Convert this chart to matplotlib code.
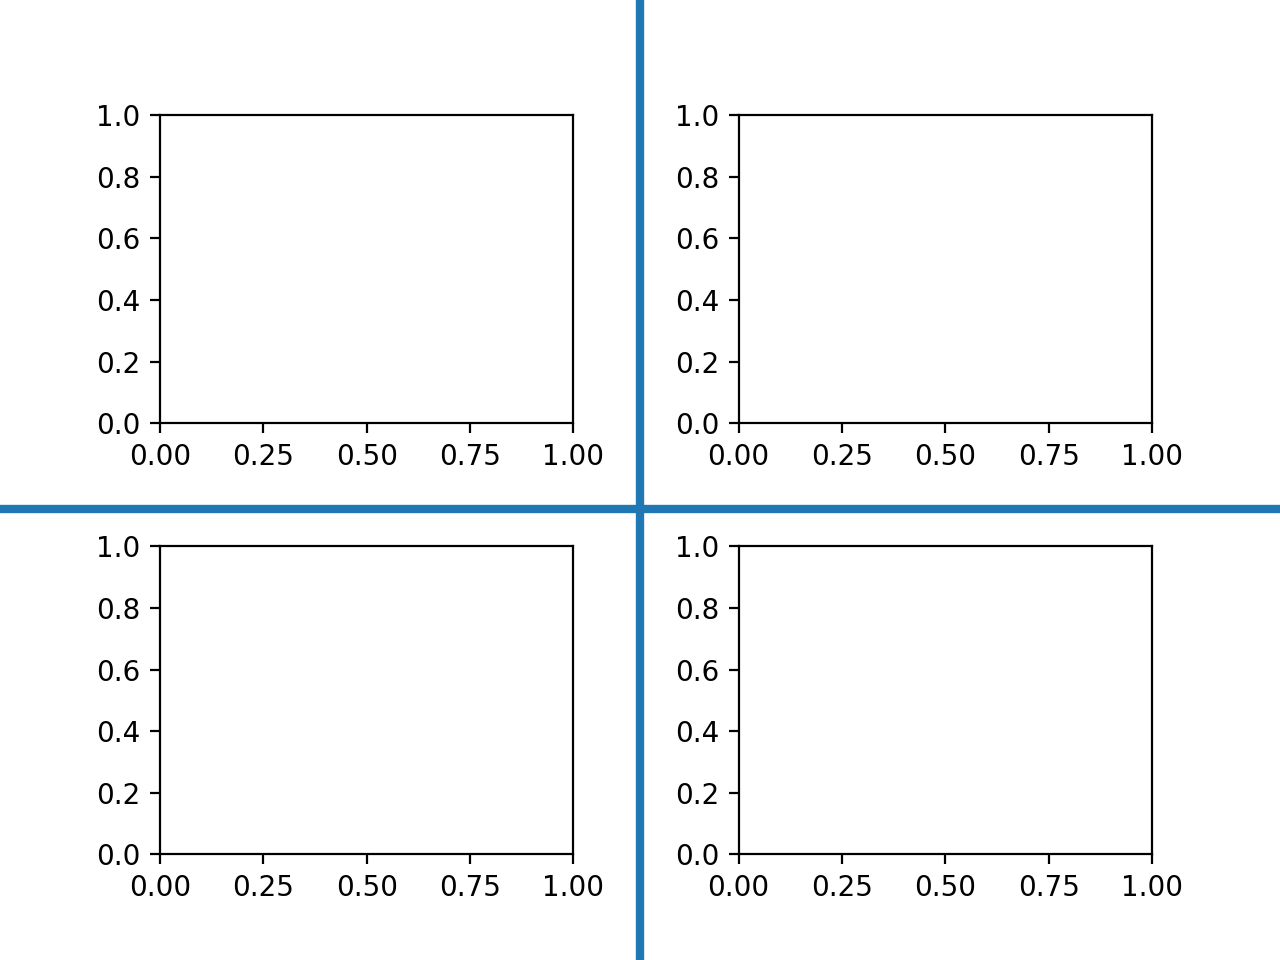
import matplotlib
matplotlib.use('Agg')
import matplotlib.pyplot as plt
from matplotlib.lines import Line2D

# figure-coordinate positions of the two divider lines
vline_x = [0.5, 0.5]
vline_y = [0, 1]
hline_x = [0, 1]
hline_y = [0.47, 0.47]

fig, axs = plt.subplots(2, 2, figsize=(6.4, 4.8), dpi=200)
fig.subplots_adjust(wspace=0.4, hspace=0.4)

fig.add_artist(Line2D(vline_x, vline_y, lw=3, color='tab:blue'))
fig.add_artist(Line2D(hline_x, hline_y, lw=3, color='tab:blue'))

fig.savefig('out.png')
